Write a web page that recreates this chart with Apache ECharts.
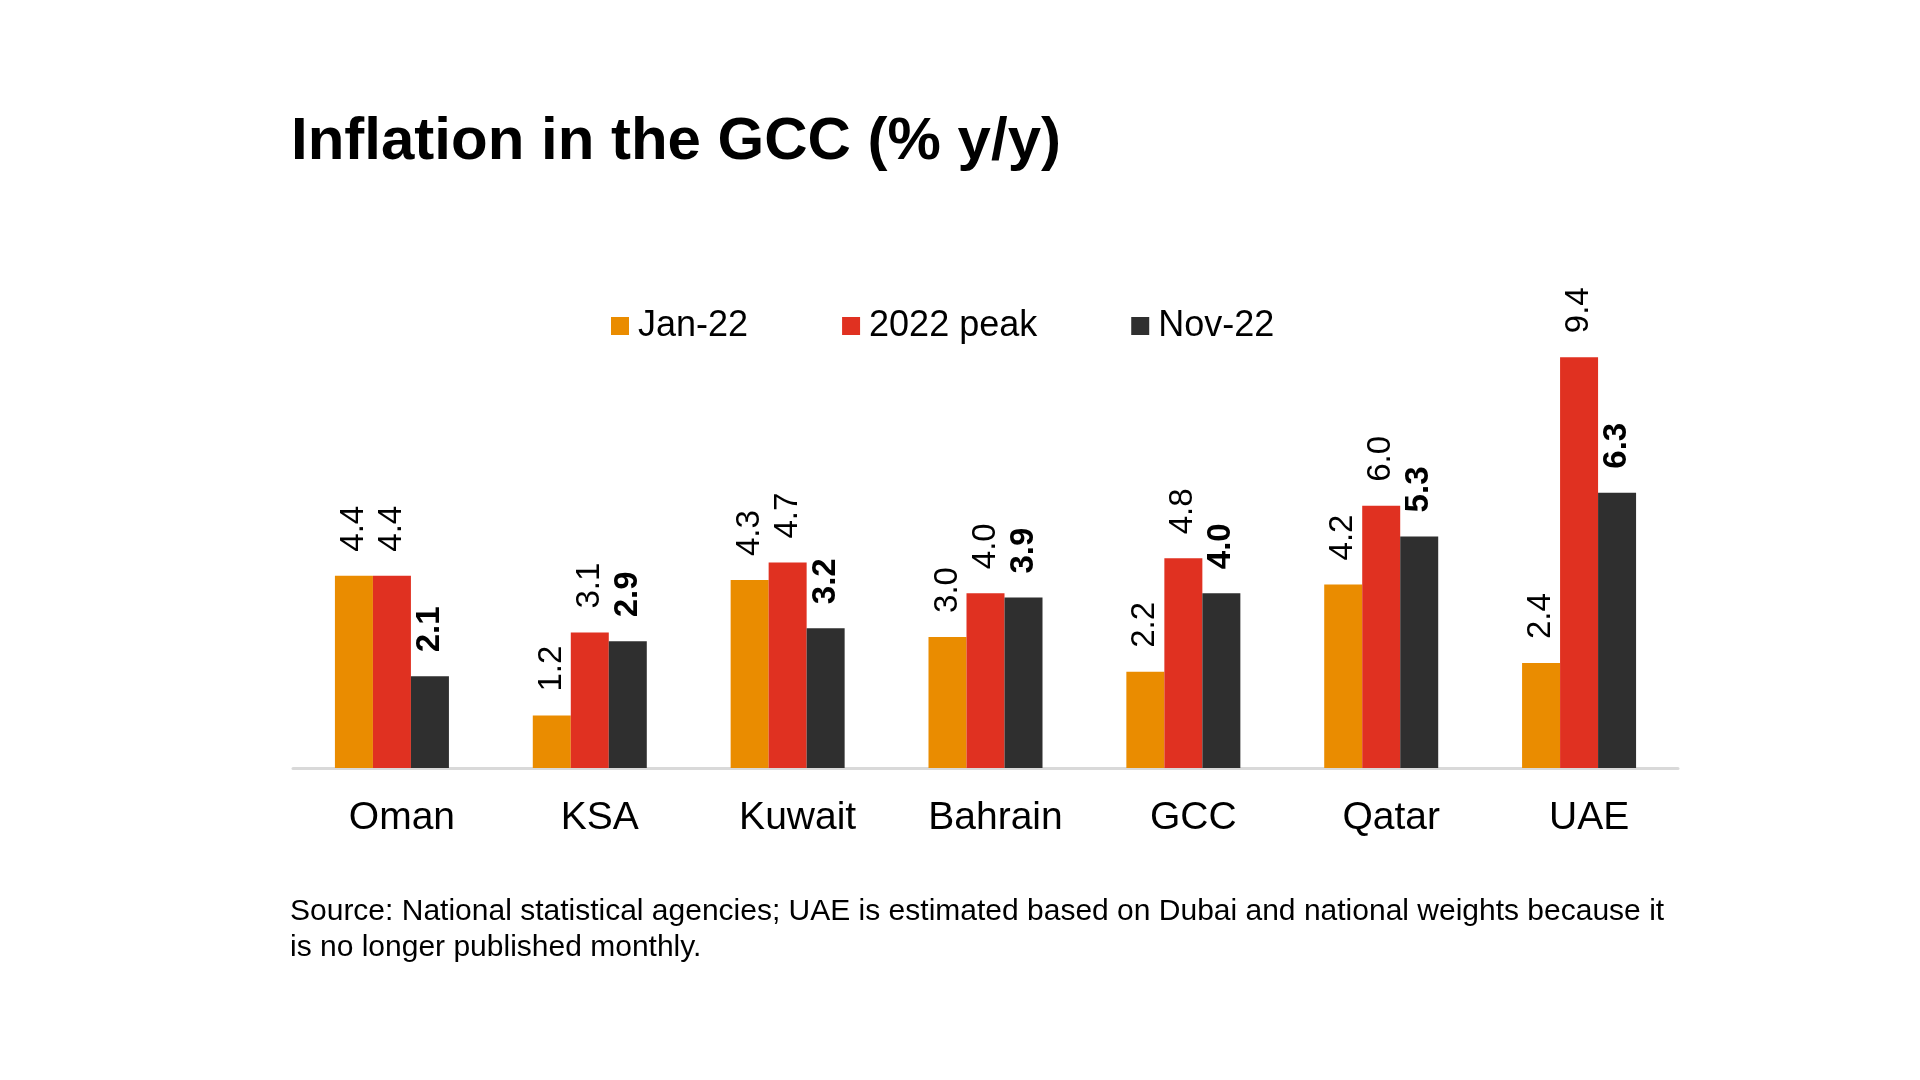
<!DOCTYPE html>
<html>
<head>
<meta charset="utf-8">
<script src="https://cdn.jsdelivr.net/npm/echarts@6/dist/echarts.min.js"></script>
<style>
html,body{margin:0;padding:0;background:#fff;}
#chart{width:1920px;height:1080px;}
</style>
</head>
<body>
<div id="chart"></div>
<script>
const categories = ['Oman', 'KSA', 'Kuwait', 'Bahrain', 'GCC', 'Qatar', 'UAE'];
const jan22 = [4.4, 1.2, 4.3, 3.0, 2.2, 4.2, 2.4];
const peak2022 = [4.4, 3.1, 4.7, 4.0, 4.8, 6.0, 9.4];
const nov22 = [2.1, 2.9, 3.2, 3.9, 4.0, 5.3, 6.3];
const seriesNames = ['Jan-22', '2022 peak', 'Nov-22'];
const titleText = 'Inflation in the GCC (% y/y)';
const sourceText = 'Source: National statistical agencies; UAE is estimated based on Dubai and national weights because it\nis no longer published monthly.';

const FONT = 'Liberation Sans, Arial, Helvetica, sans-serif';
const colors = ['#EA8C00', '#E03121', '#2F2F2F'];

function makeSeries(name, data, color, bold) {
  return {
    name: name,
    type: 'bar',
    data: data,
    barWidth: 38,
    barGap: '0%',
    itemStyle: { color: color },
    label: {
      show: true,
      position: 'top',
      rotate: 90,
      align: 'left',
      verticalAlign: 'middle',
      distance: 24,
      color: '#000',
      fontFamily: FONT,
      fontSize: 33,
      fontWeight: bold ? 'bold' : 'normal',
      formatter: p => p.value.toFixed(1)
    }
  };
}

const chart = echarts.init(document.getElementById('chart'));
chart.setOption({
  animation: false,
  backgroundColor: '#fff',
  title: [{
    text: titleText,
    left: 286,
    top: 107,
    textStyle: { fontFamily: FONT, fontSize: 60, fontWeight: 'bold', color: '#000', lineHeight: 60 }
  }, {
    text: sourceText,
    left: 285,
    top: 889,
    textStyle: { fontFamily: FONT, fontSize: 30, fontWeight: 'normal', color: '#000', lineHeight: 36 }
  }],
  legend: {
    left: 606,
    top: 303,
    itemWidth: 18,
    itemHeight: 18,
    itemGap: 94,
    icon: 'rect',
    textStyle: { fontFamily: FONT, fontSize: 36, color: '#000', padding: [0, 0, 0, 4] },
    data: seriesNames
  },
  grid: { left: 293, right: 242, top: 331, bottom: 312, containLabel: false },
  xAxis: {
    type: 'category',
    data: categories,
    axisLine: { show: true, lineStyle: { color: '#D9D9D9', width: 3 } },
    axisTick: { show: false },
    axisLabel: { color: '#000', fontFamily: FONT, fontSize: 39, margin: 31, padding: [0, 0, 0, 20] }
  },
  yAxis: {
    type: 'value',
    min: 0,
    max: 10,
    show: false,
    splitLine: { show: false }
  },
  series: [
    makeSeries(seriesNames[0], jan22, colors[0], false),
    makeSeries(seriesNames[1], peak2022, colors[1], false),
    makeSeries(seriesNames[2], nov22, colors[2], true)
  ]
});
</script>
</body>
</html>
